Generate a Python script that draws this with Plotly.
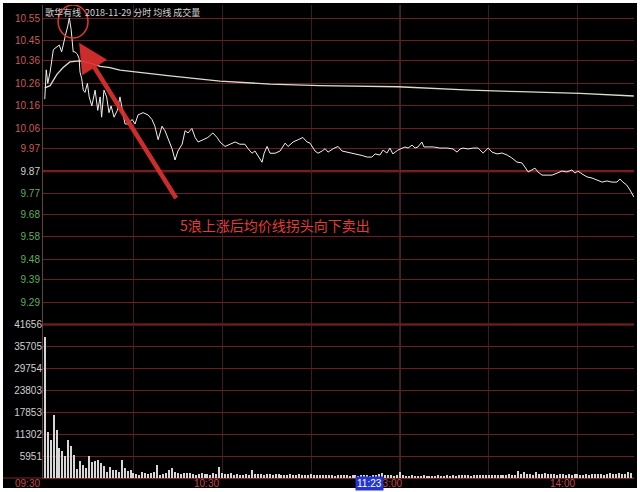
import plotly.graph_objects as go

# ---------------- data ----------------
title_text = "歌华有线  2018-11-29 分时 均线 成交量"
note_text = "5浪上涨后均价线拐头向下卖出"
prev_close = 9.87

# price line: minute offset from 09:30 (trading minutes), price
price_minute = [0, 0.5, 1.0, 1.8, 2.9, 4.0, 4.9, 5.7, 6.3, 7.1, 7.7, 8.3, 8.9, 9.6, 10.2, 11.0, 11.6, 11.9,
                12.5, 13.0, 13.6, 14.4, 15.0, 15.9, 17.0, 17.9, 18.7, 19.2, 20.0, 20.9, 21.7, 22.4, 23.4, 24.5,
                25.4, 26.5, 27.1, 28.1, 29.5, 30.5, 31.5, 33.2, 34.9, 36.2, 37.2, 38.3, 39.6, 40.6, 41.6, 43.0,
                44.0, 45.0, 46.4, 47.4, 48.4, 49.7, 50.8, 51.8, 53.5, 55.1, 56.8, 58.2, 59.2, 60.9, 62.6, 64.3,
                65.9, 67.6, 68.7, 70.0, 71.0, 72.0, 73.4, 74.1, 75.1, 76.1, 77.8, 79.5, 81.2, 82.2, 83.9, 85.6,
                87.2, 88.6, 89.6, 91.3, 92.3, 93.7, 94.7, 95.7, 97.4, 99.1, 100.4, 102.1, 103.8, 105.5, 107.2,
                108.9, 110.5, 111.6, 113.2, 114.3, 115.6, 116.6, 117.6, 119.3, 120.7, 121.7, 122.7, 124.1, 125.1,
                126.1, 127.4, 128.1, 129.5, 131.2, 133.5, 135.9, 137.9, 139.3, 140.3, 141.3, 143.0, 144.7, 146.4,
                148.1, 149.8, 151.1, 152.8, 154.5, 156.2, 157.8, 159.5, 161.2, 162.2, 163.3, 164.6, 165.6, 166.6,
                168.0, 169.7, 171.4, 173.1, 174.7, 176.4, 178.1, 179.1, 180.1, 181.5, 183.2, 184.9, 186.6, 188.3,
                189.9, 191.6, 193.3, 194.3, 195.3, 196.6, 197.7, 199.0]
price_value = [10.19, 10.32, 10.26, 10.31, 10.41, 10.42, 10.43, 10.40, 10.44, 10.48, 10.51, 10.55, 10.50, 10.40,
               10.40, 10.39, 10.37, 10.31, 10.28, 10.23, 10.22, 10.26, 10.20, 10.16, 10.23, 10.14, 10.20, 10.11,
               10.23, 10.20, 10.13, 10.16, 10.11, 10.14, 10.20, 10.13, 10.08, 10.08, 10.10, 10.08, 10.12, 10.13,
               10.12, 10.10, 10.07, 10.01, 10.07, 10.05, 10.02, 9.97, 9.92, 9.96, 9.99, 10.05, 10.04, 10.06, 10.02,
               10.00, 10.01, 10.02, 10.04, 10.02, 10.00, 9.98, 9.99, 10.00, 9.99, 9.99, 9.97, 9.95, 9.96, 9.94,
               9.91, 9.95, 9.98, 9.95, 9.95, 9.96, 9.995, 9.98, 10.00, 10.01, 10.02, 10.00, 9.995, 9.96, 9.95,
               9.96, 9.97, 9.955, 9.97, 9.98, 9.96, 9.955, 9.95, 9.947, 9.94, 9.933, 9.933, 9.947, 9.942, 9.964,
               9.951, 9.973, 9.947, 9.964, 9.973, 9.978, 9.973, 9.986, 9.973, 9.978, 10.00, 9.978, 9.978, 9.978,
               9.973, 9.973, 9.969, 9.955, 9.969, 9.973, 9.969, 9.973, 9.973, 9.951, 9.973, 9.955, 9.947, 9.951,
               9.942, 9.929, 9.911, 9.907, 9.889, 9.867, 9.876, 9.884, 9.867, 9.853, 9.853, 9.853, 9.862, 9.871,
               9.867, 9.876, 9.862, 9.871, 9.858, 9.845, 9.840, 9.831, 9.822, 9.827, 9.822, 9.822, 9.836, 9.822,
               9.809, 9.787, 9.756]

# average price line
avg_minute = [0, 1.8, 4.1, 6.2, 8.5, 11.9, 15.3, 18.7, 22.0, 25.4, 42.3, 59.2, 76.1, 93.0, 119.3, 143.7,
              160.6, 180.8, 199.0]
avg_value = [10.24, 10.25, 10.30, 10.33, 10.355, 10.36, 10.35, 10.335, 10.33, 10.319, 10.293, 10.270, 10.257,
             10.250, 10.245, 10.230, 10.223, 10.216, 10.204]

# per-minute volume
volume = [38200, 12500, 10400, 17200, 13100, 8150, 7250, 6070, 10400, 8600,
          6340, 2450, 4710, 3620, 2720, 5890, 4260, 4710, 4980, 4080,
          3350, 1630, 2990, 2260, 2080, 1540, 4980, 2720, 1810, 2080,
          1360, 1180, 900, 1540, 1360, 1180, 1450, 1540, 3440, 900,
          1180, 1360, 2080, 2720, 1540, 1360, 1180, 1360, 1270, 1360,
          1090, 900, 1180, 1360, 1000, 1180, 815, 1360, 1000, 2990,
          1360, 1180, 1090, 1360, 900, 1100, 800, 950, 1000, 850,
          2170, 1100, 1000, 1200, 900, 1050, 1150, 950, 1000, 1100,
          900, 800, 950, 1000, 850, 900, 1050, 800, 700, 900,
          1000, 850, 950, 800, 750, 900, 700, 800, 650, 900,
          750, 700, 850, 600, 700, 800, 650, 900, 700, 750,
          650, 700, 800, 1000, 1300, 900, 800, 700, 650, 750,
          1720, 800, 650, 600, 700, 550, 650, 600, 700, 500,
          600, 650, 550, 700, 600, 650, 750, 600, 700, 650,
          800, 700, 900, 750, 650, 800, 850, 700, 900, 800,
          750, 700, 850, 950, 800, 700, 900, 1000, 850, 900,
          1990, 1100, 1500, 1000, 1200, 900, 1500, 1100, 1000, 1300,
          1100, 1000, 1200, 900, 1000, 1100, 950, 1000, 900, 1100,
          1000, 850, 900, 1050, 950, 1100, 1000, 1200, 1050, 900,
          1000, 1300, 1100, 1000, 1400, 1200, 1100, 1500, 1300]
volume_minute = list(range(len(volume)))

price_ticks = [10.55, 10.45, 10.36, 10.26, 10.16, 10.06, 9.97, 9.87, 9.77, 9.68, 9.58, 9.48, 9.39, 9.29]
volume_ticks = [41656, 35705, 29754, 23803, 17853, 11902, 5951]
volume_tick_labels = ["41656", "35705", "29754", "23803", "17853", "11302", "5951"]
time_ticks = [0, 60, 120, 180]
time_labels = ["09:30", "10:30", "13:00", "14:00"]
time_label_shift = [-1, -1, 4, -1]
grid_minutes = [30, 60, 90, 120, 150, 180]
cursor_minute = 113
cursor_label = "11:23"

# ---------------- styling ----------------
W, H = 640, 492
ML, MR, MT, MB = 43, 6, 5, 14
PW, PH = W - ML - MR, H - MT - MB
X_RANGE = [-0.6, -0.6 + PW / 2.96]
P_RANGE = [8.5092, 10.6077]
V_RANGE = [0, 128370]

RED_UP = "#c85a5a"
GREEN_DN = "#5fae5f"
NEUTRAL = "#cfcfcf"
GRID = "#6a1e22"
NUM_FONT = "Liberation Sans"
CJK_FONT = "Noto Sans CJK SC"


def tick_html(v):
    c = RED_UP if v > prev_close + 1e-9 else (NEUTRAL if abs(v - prev_close) < 1e-9 else GREEN_DN)
    return f"<span style='color:{c}'>{v:.2f}</span>"


fig = go.Figure()

fig.add_trace(go.Bar(x=volume_minute, y=volume, yaxis="y2", width=0.4,
                     marker=dict(color="#d6d6d6", line=dict(width=0)), showlegend=False,
                     hoverinfo="skip"))
fig.add_trace(go.Scatter(x=avg_minute, y=avg_value, mode="lines",
                         line=dict(color="#dcdccc", width=1.3), showlegend=False, hoverinfo="skip"))
fig.add_trace(go.Scatter(x=price_minute, y=price_value, mode="lines",
                         line=dict(color="#f0f0f0", width=1), showlegend=False, hoverinfo="skip"))

# page frame (white border, black panel)
px_x = lambda px: (px - ML) / PW
px_y = lambda py: (H - MB - py) / PH
shapes = [
    dict(type="rect", xref="paper", yref="paper", x0=px_x(3), x1=px_x(637), y0=px_y(488), y1=px_y(3),
         fillcolor="black", line=dict(width=0), layer="below"),
    # emphasised previous close line
    dict(type="line", xref="paper", yref="y", x0=0, x1=1, y0=prev_close, y1=prev_close,
         line=dict(color="#a82828", width=2), layer="below"),
    # emphasised top of volume panel
    dict(type="line", xref="paper", yref="y2", x0=0, x1=1, y0=volume_ticks[0], y1=volume_ticks[0],
         line=dict(color="#9a2626", width=2), layer="below"),
    # midday separator
    dict(type="line", xref="x", yref="paper", x0=120, x1=120, y0=0, y1=1,
         line=dict(color="#8a4a4a", width=1), layer="below"),
    # bottom axis extension to the left
    dict(type="line", xref="paper", yref="paper", x0=px_x(3), x1=1, y0=0, y1=0,
         line=dict(color="#7a2424", width=1), layer="below"),
    # red circle around the peak
    dict(type="circle", xref="x", yref="y", x0=4.5, x1=14.6, y0=10.461, y1=10.608,
         line=dict(color="#d83434", width=1.6)),
]

annotations = [
    dict(xref="paper", yref="paper", x=0, y=px_y(12.5), xanchor="left", yanchor="middle",
         text=title_text, showarrow=False, font=dict(family=CJK_FONT, size=9, color="#d4d4d4")),
    dict(xref="x", yref="y", x=77.8, y=9.632, text=note_text, showarrow=False,
         font=dict(family=CJK_FONT, size=14, color="#e23b3b")),
    dict(xref="x", yref="y", x=11.6, y=10.44, ax=98, ay=157, axref="pixel", ayref="pixel",
         text="", showarrow=True, arrowhead=2, arrowsize=1.3, arrowwidth=4.5,
         arrowcolor="rgba(222,48,48,0.92)", standoff=0),
]
for t, lab, sh in zip(time_ticks, time_labels, time_label_shift):
    annotations.append(dict(xref="x", yref="paper", x=t if t > 0 else X_RANGE[0], y=px_y(484),
                            xanchor="right", yanchor="middle", text=lab, showarrow=False,
                            xshift=sh, font=dict(family=NUM_FONT, size=10, color="#c8484c")))
annotations.append(dict(xref="x", yref="paper", x=cursor_minute + 1.5, y=px_y(484), xanchor="right",
                        yanchor="middle", text=cursor_label, showarrow=False, bgcolor="#2334d0",
                        borderpad=1, font=dict(family=NUM_FONT, size=10, color="white")))

fig.update_layout(
    width=W, height=H, margin=dict(l=ML, r=MR, t=MT, b=MB, pad=0),
    paper_bgcolor="white", plot_bgcolor="black", bargap=0,
    shapes=shapes, annotations=annotations,
    xaxis=dict(range=X_RANGE, tickvals=grid_minutes, showticklabels=False, ticks="",
               showgrid=True, gridcolor="#3e1c1c", gridwidth=1, zeroline=False,
               showline=True, linecolor="#7a2424", linewidth=1),
    yaxis=dict(range=P_RANGE, tickvals=price_ticks, ticktext=[tick_html(v) for v in price_ticks],
               showgrid=True, gridcolor=GRID, gridwidth=1, zeroline=False, ticks="",
               tickfont=dict(family=NUM_FONT, size=10), showline=True, linecolor="#5e4444",
               linewidth=1),
    yaxis2=dict(range=V_RANGE, overlaying="y", side="left", anchor="x", tickvals=volume_ticks,
                ticktext=volume_tick_labels, showgrid=True, gridcolor=GRID, gridwidth=1,
                zeroline=False, ticks="", tickfont=dict(family=NUM_FONT, size=10, color=NEUTRAL)),
)

fig.write_html("out.html", config={"displayModeBar": False},
               post_script="document.body.style.margin='0px';document.body.style.overflow='hidden';")
